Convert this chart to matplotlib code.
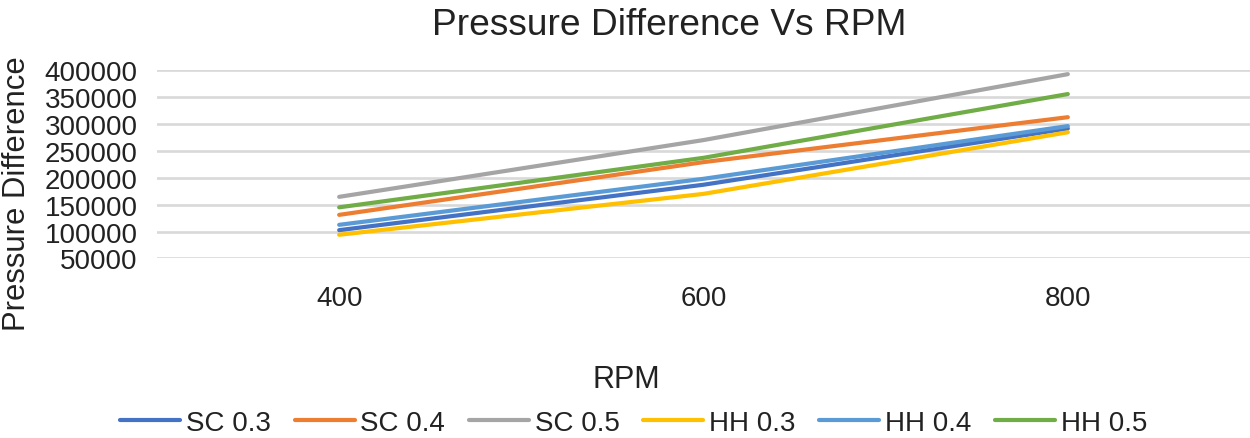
import numpy as np
import matplotlib
matplotlib.use("Agg")
import matplotlib.pyplot as plt

plt.rcParams['font.family'] = ['Liberation Sans', 'DejaVu Sans']

# data
rpm = ['400', '600', '800']
sc_03 = [102600, 187000, 291500]
sc_04 = [131000, 229000, 312500]
sc_05 = [164500, 270000, 392500]
hh_03 = [94000, 170000, 284500]
hh_04 = [112500, 198000, 296000]
hh_05 = [145000, 237000, 355500]

series = [
    ('SC 0.3', sc_03, '#4472C4'),
    ('SC 0.4', sc_04, '#ED7D31'),
    ('SC 0.5', sc_05, '#A5A5A5'),
    ('HH 0.3', hh_03, '#FFC000'),
    ('HH 0.4', hh_04, '#5B9BD5'),
    ('HH 0.5', hh_05, '#70AD47'),
]
y_ticks = [50000, 100000, 150000, 200000, 250000, 300000, 350000, 400000]

fig = plt.figure(figsize=(12.5, 4.39), dpi=100)
ax = fig.add_axes([0.1256, 0.409, 0.8744, 0.429])

x = np.arange(len(rpm))
for name, vals, col in series:
    ax.plot(x, vals, color=col, lw=3, label=name, solid_capstyle='round')

ax.set_xlim(-0.5, 2.5)
ax.set_ylim(50000, 400000)
ax.set_yticks(y_ticks)
ax.set_yticklabels([str(v) for v in y_ticks])
ax.set_xticks(x)
ax.set_xticklabels(rpm)
ax.tick_params(axis='y', length=0, pad=14, labelsize=20, colors='#222222')
ax.tick_params(axis='x', length=0, pad=19, labelsize=20, colors='#222222')
ax.grid(axis='y', color='#d9d9d9', lw=1.9)
ax.set_axisbelow(True)
for s in ax.spines.values():
    s.set_visible(False)

fig.text(0.535, 0.92, 'Pressure Difference Vs RPM', fontsize=26.7,
         ha='center', va='baseline', color='#222222')
fig.text(0.0136, 0.56, 'Pressure Difference', fontsize=22.3, rotation=90,
         ha='center', va='center', color='#222222')
fig.text(0.501, 0.116, 'RPM', fontsize=22, ha='center', va='baseline',
         color='#222222')

fig.legend(loc='center', bbox_to_anchor=(0.507, 0.034), ncol=6, frameon=False,
           fontsize=20, handlelength=2.16, handletextpad=0.2,
           columnspacing=0.86, borderpad=0, labelcolor='#222222')

fig.savefig('out.png', dpi=100)
